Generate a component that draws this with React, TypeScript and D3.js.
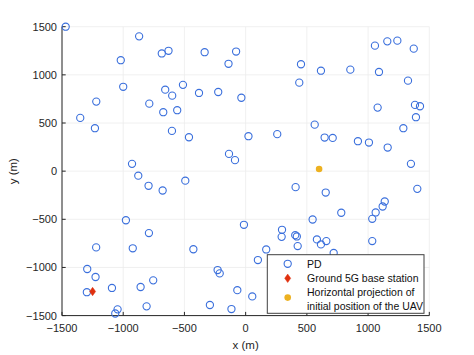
import React from "react";
import * as d3 from "d3";

const pdX = [-1470, -870, -685, -630, -335, -78, -140, -1020, -1000, -1220, -1351, -1231, -787, -657, -600, -512, -381, -224, -35, -673, -559, -602, -463, -136, -87, -928, -877, -793, -678, -493,
  452, 438, 615, 855, 1056, 1157, 1239, 1373, 1089, 1326, 1078, 1383, 1424, 1391, 1288, 23, 258, 564, 645, 711, 917, 1007, 1160, 1350,
  -978, -790, -1221, -922, -427, -1294, -1226, -755, -1092, -858, -1297, -229, -212, -68, -1046, -1065, -809, -292, -116,
  408, 654, 1402, 781, 547, 1136, 1119, 1062, 1034, -14, 297, 294, 405, 418, 425, 582, 615, 659, 719, 1034, 168, 100, 54];
const pdY = [1500, 1400, 1222, 1250, 1235, 1242, 1115, 1152, 876, 722, 553, 446, 701, 846, 784, 896, 812, 822, 762, 612, 633, 418, 352, 179, 114, 76, -47, -152, -201, -99,
  1110, 919, 1043, 1054, 1303, 1348, 1355, 1272, 1030, 940, 660, 688, 674, 560, 446, 363, 384, 483, 349, 345, 311, 297, 245, 76,
  -510, -643, -792, -801, -811, -1016, -1099, -1134, -1213, -1203, -1257, -1027, -1062, -1236, -1435, -1478, -1404, -1390, -1432,
  -166, -222, -184, -432, -502, -315, -367, -429, -495, -557, -609, -682, -665, -678, -778, -709, -761, -726, -850, -726, -813, -923, -1301];

const baseStation = { x: -1250, y: -1250 };
const uavStart = { x: 600, y: 22 };

const xTicks = [-1500, -1000, -500, 0, 500, 1000, 1500];
const yTicks = [-1500, -1000, -500, 0, 500, 1000, 1500];

const legendLabels = ["PD", "Ground 5G base station", "Horizontal projection of", "initial position of the UAV"];

const W = 474, H = 355;
const L = 62, R = 429.3, T = 26.7, B = 315.6;
const FONT = "'Liberation Sans', Arial, Helvetica, sans-serif";
const AX = "#262626";
const BLUE = "#3a6fdc";
const RED = "#e0300e";
const ORANGE = "#edb120";

const fmt = (v: number) => (v < 0 ? "\u2212" + Math.abs(v) : String(v));

export default function App() {
  const x = d3.scaleLinear().domain([-1500, 1500]).range([L, R]);
  const y = d3.scaleLinear().domain([-1500, 1500]).range([B, T]);
  const tl = 3.7;
  const lg = { x: 267.3, y: 254.7, w: 156.7, h: 58.6 };
  const diamond = (cx: number, cy: number) => `M${cx},${cy - 4.2}L${cx + 3},${cy}L${cx},${cy + 4.2}L${cx - 3},${cy}Z`;
  return (
    <div style={{ position: "fixed", left: 0, top: 0 }}>
      <svg width={W} height={H} style={{ display: "block", background: "#fff" }} fontFamily={FONT}>
        {/* grid */}
        {xTicks.map((t) => (
          <line key={"gx" + t} x1={x(t)} x2={x(t)} y1={T} y2={B} stroke="#ececec" strokeWidth={0.8} />
        ))}
        {yTicks.map((t) => (
          <line key={"gy" + t} x1={L} x2={R} y1={y(t)} y2={y(t)} stroke="#ececec" strokeWidth={0.8} />
        ))}
        {/* axes */}
        <line x1={L} x2={L} y1={T} y2={B} stroke={AX} strokeWidth={1} />
        <line x1={L} x2={R} y1={B} y2={B} stroke={AX} strokeWidth={1} />
        {xTicks.map((t) => (
          <g key={"xt" + t}>
            <line x1={x(t)} x2={x(t)} y1={B} y2={B - tl} stroke={AX} strokeWidth={1} />
            <text x={x(t)} y={B + 16} textAnchor="middle" fontSize={11} fill={AX}>{fmt(t)}</text>
          </g>
        ))}
        {yTicks.map((t) => (
          <g key={"yt" + t}>
            <line x1={L} x2={L + tl} y1={y(t)} y2={y(t)} stroke={AX} strokeWidth={1} />
            <text x={L - 5} y={y(t) + 4} textAnchor="end" fontSize={11} fill={AX}>{fmt(t)}</text>
          </g>
        ))}
        <text x={(L + R) / 2} y={349} textAnchor="middle" fontSize={11.5} fill={AX}>x (m)</text>
        <text transform={`translate(16.5,${(T + B) / 2}) rotate(-90)`} textAnchor="middle" fontSize={11.5} fill={AX}>y (m)</text>
        {/* PD points */}
        {pdX.map((v, i) => (
          <circle key={"p" + i} cx={x(v)} cy={y(pdY[i])} r={3.6} fill="none" stroke={BLUE} strokeWidth={1.1} />
        ))}
        <path d={diamond(x(baseStation.x), y(baseStation.y))} fill={RED} stroke={RED} strokeWidth={0.5} />
        <circle cx={x(uavStart.x)} cy={y(uavStart.y)} r={3.3} fill={ORANGE} />
        {/* legend */}
        <rect x={lg.x} y={lg.y} width={lg.w} height={lg.h} fill="#fff" stroke="#404040" strokeWidth={1} />
        <circle cx={287.7} cy={263.8} r={3.6} fill="none" stroke={BLUE} strokeWidth={1.1} />
        <path d={diamond(287.7, 278.3)} fill={RED} stroke={RED} strokeWidth={0.5} />
        <circle cx={287.7} cy={297.6} r={3.3} fill={ORANGE} />
        <text x={307} y={267.5} fontSize={10.5} fill="#111">{legendLabels[0]}</text>
        <text x={307} y={282} fontSize={10.5} fill="#111">{legendLabels[1]}</text>
        <text x={307} y={295.8} fontSize={10.5} fill="#111">{legendLabels[2]}</text>
        <text x={307} y={309.8} fontSize={10.5} fill="#111">{legendLabels[3]}</text>
      </svg>
    </div>
  );
}
